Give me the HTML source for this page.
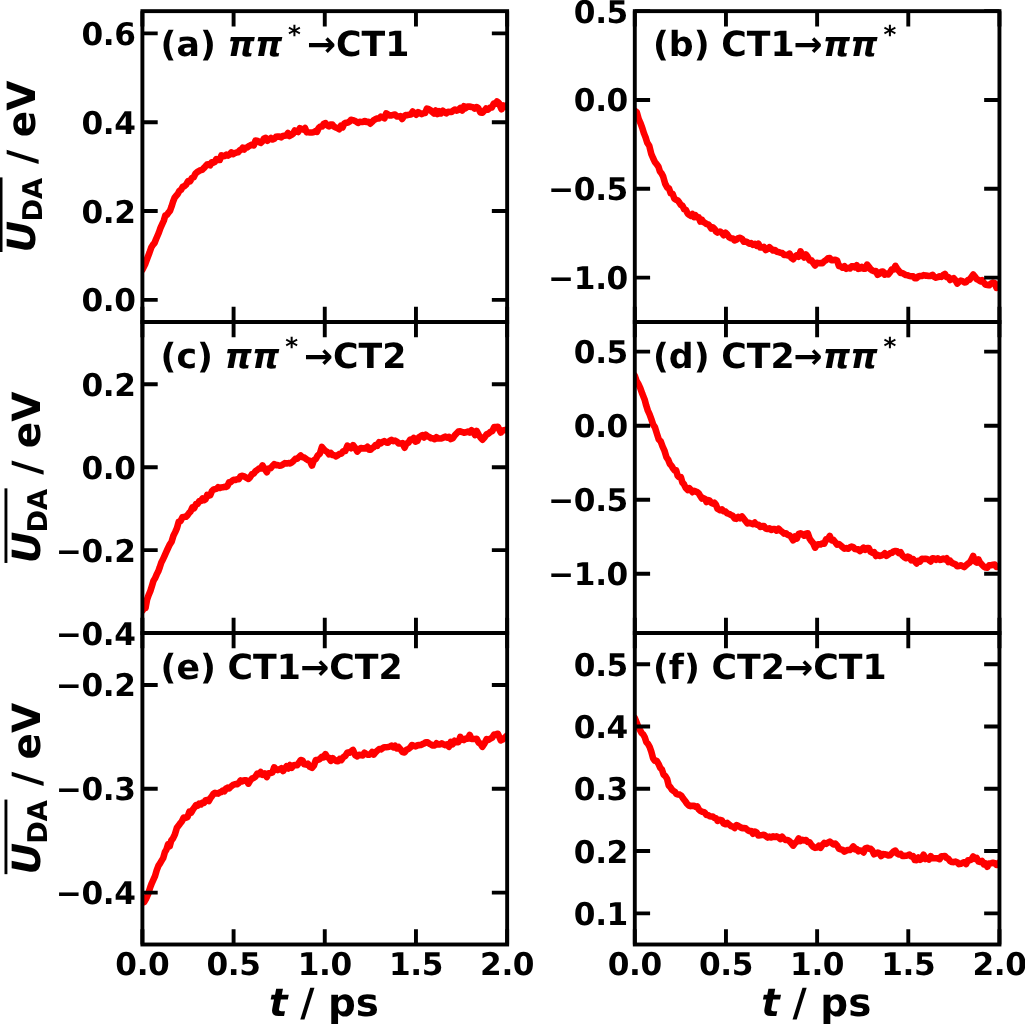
<!DOCTYPE html>
<html><head><meta charset="utf-8"><title>U_DA vs t</title>
<style>html,body{margin:0;padding:0;background:#fff;} body{width:1025px;height:1024px;overflow:hidden;} svg{display:block;} text{text-rendering:geometricPrecision;}</style>
</head><body>
<svg width="1025" height="1024" viewBox="0 0 1025 1024">
<defs>
<clipPath id="clipa"><rect x="142.4" y="11.15" width="364.75" height="310.90"/></clipPath>
<clipPath id="clipb"><rect x="634.8" y="11.15" width="364.65" height="310.90"/></clipPath>
<clipPath id="clipc"><rect x="142.4" y="322.05" width="364.75" height="311.00"/></clipPath>
<clipPath id="clipd"><rect x="634.8" y="322.05" width="364.65" height="311.00"/></clipPath>
<clipPath id="clipe"><rect x="142.4" y="633.05" width="364.75" height="311.45"/></clipPath>
<clipPath id="clipf"><rect x="634.8" y="633.05" width="364.65" height="311.45"/></clipPath>
</defs>
<rect width="1025" height="1024" fill="#fff"/>
<g clip-path="url(#clipa)"><polyline points="142.40,269.72 145.00,264.56 147.50,257.75 149.45,252.75 151.40,247.18 152.97,244.73 154.53,242.96 156.10,238.97 158.80,232.74 160.50,227.97 162.20,224.23 163.77,220.74 165.33,215.43 166.90,214.94 168.43,212.72 169.97,210.88 171.50,206.64 173.05,201.73 174.60,197.82 176.17,195.68 177.73,193.94 179.30,190.95 181.00,189.85 182.70,186.84 184.40,186.16 186.10,184.53 188.07,181.11 190.03,181.46 192.00,177.91 193.70,177.17 195.40,173.72 197.10,172.14 198.80,171.12 200.46,170.20 202.12,169.84 203.78,168.23 205.44,166.29 207.10,164.55 208.63,164.21 210.17,165.31 211.70,162.26 213.23,162.60 214.77,161.99 216.30,159.06 218.00,159.70 219.70,160.04 221.40,155.33 223.10,156.15 224.76,155.88 226.42,154.60 228.08,155.55 229.74,154.43 231.40,152.39 233.06,154.09 234.72,153.10 236.38,152.58 238.04,152.30 239.70,150.30 241.20,149.65 242.70,147.70 244.20,149.43 245.70,147.69 247.20,147.49 248.70,146.21 250.40,145.34 252.10,144.62 253.80,145.42 255.50,140.57 257.20,140.70 258.90,142.06 260.60,142.89 262.30,141.44 264.02,138.54 265.75,137.85 267.48,140.67 269.20,139.29 270.90,138.02 272.60,139.48 274.30,138.76 276.00,136.87 277.70,136.62 279.40,136.48 281.10,137.40 282.80,135.98 284.50,135.70 286.20,135.55 287.90,133.05 289.60,136.01 291.33,134.98 293.05,133.83 294.77,130.40 296.50,131.20 298.20,131.98 299.90,128.21 301.60,129.15 303.30,129.62 305.00,128.08 306.70,132.32 308.40,132.18 310.10,132.43 311.83,132.43 313.55,132.26 315.27,131.16 317.00,131.76 318.70,128.07 320.40,126.64 322.10,126.55 323.80,123.73 325.50,123.08 327.20,125.44 328.90,126.36 330.60,124.61 332.33,124.43 334.05,126.65 335.77,127.49 337.50,128.17 339.20,129.20 340.90,125.67 342.60,127.34 344.30,123.70 346.00,122.68 347.70,122.69 349.40,121.69 351.10,119.84 352.83,120.13 354.55,120.76 356.27,121.62 358.00,122.93 359.70,121.78 361.40,121.96 363.10,121.95 364.80,121.00 366.62,121.99 368.45,121.92 370.28,123.66 372.10,121.96 373.85,120.08 375.60,119.09 377.35,118.44 379.10,118.42 380.88,116.68 382.65,117.12 384.43,118.37 386.20,113.40 387.98,114.41 389.75,115.57 391.52,115.39 393.30,114.86 395.07,114.65 396.85,116.37 398.62,116.49 400.40,116.13 402.15,118.95 403.90,116.39 405.65,115.04 407.40,115.19 409.17,114.68 410.95,114.48 412.73,111.58 414.50,113.26 416.27,114.73 418.05,112.16 419.83,113.20 421.60,114.15 423.38,113.17 425.15,112.99 426.93,108.60 428.70,109.21 430.45,110.10 432.20,112.04 433.95,113.43 435.70,110.50 437.48,114.12 439.25,111.16 441.02,113.33 442.80,110.76 444.57,112.42 446.35,113.36 448.12,111.71 449.90,111.91 451.65,111.88 453.40,110.46 455.15,109.50 456.90,110.59 458.67,109.70 460.45,107.88 462.23,110.45 464.00,106.24 465.77,108.16 467.55,106.51 469.33,106.60 471.10,106.88 472.88,107.22 474.65,108.55 476.43,107.04 478.20,107.94 480.30,112.38 482.40,112.74 484.27,110.80 486.13,108.45 488.00,109.59 489.90,107.85 491.80,107.49 493.70,103.67 495.37,103.73 497.03,101.51 498.70,102.64 501.50,109.25 503.38,105.35 505.27,106.88 507.15,105.09" fill="none" stroke="#ff0000" stroke-width="6.6" stroke-linejoin="round" stroke-linecap="round"/></g>
<g clip-path="url(#clipb)"><polyline points="634.80,110.80 636.75,112.13 638.70,119.15 640.60,123.34 642.50,128.64 644.07,133.64 645.63,137.55 647.20,142.65 649.25,145.73 651.30,153.95 653.13,158.27 654.97,162.16 656.80,164.30 658.38,166.61 659.95,171.47 661.52,173.40 663.10,176.34 665.15,183.62 667.20,187.61 668.95,188.30 670.70,193.32 672.53,193.66 674.37,198.55 676.20,199.95 677.75,200.40 679.30,202.54 680.85,204.94 682.40,205.59 684.17,209.29 685.93,210.10 687.70,213.64 689.30,214.91 690.90,215.80 692.50,214.06 694.07,217.08 695.63,215.37 697.20,217.56 698.77,217.37 700.33,221.49 701.90,219.74 703.45,222.06 705.00,222.84 706.55,223.99 708.10,224.35 709.67,226.03 711.25,228.52 712.83,227.37 714.40,228.68 715.95,231.55 717.50,232.58 720.00,231.51 721.83,232.84 723.65,235.18 725.47,232.74 727.30,234.44 729.12,237.31 730.95,238.17 732.77,238.41 734.60,240.39 736.45,239.68 738.30,238.20 740.15,237.78 742.00,238.80 743.83,241.79 745.65,241.43 747.47,242.33 749.30,243.75 751.12,243.12 752.95,244.87 754.77,243.90 756.60,245.80 758.42,243.70 760.25,247.56 762.08,247.39 763.90,246.86 765.73,250.00 767.55,249.10 769.38,247.15 771.20,248.84 773.03,250.47 774.85,250.00 776.67,251.71 778.50,252.02 780.35,252.66 782.20,253.01 784.05,254.84 785.90,254.83 787.73,255.52 789.55,253.66 791.38,257.86 793.20,259.24 795.03,256.37 796.85,255.08 798.67,256.63 800.50,251.47 802.33,254.64 804.15,257.45 805.97,254.55 807.80,257.06 809.62,260.40 811.45,260.22 813.27,262.99 815.10,265.39 816.92,262.85 818.75,263.20 820.58,263.07 822.40,263.11 824.25,261.24 826.10,260.14 827.95,258.31 829.80,258.11 831.62,260.23 833.45,260.11 835.27,259.81 837.10,260.57 838.92,265.93 840.75,266.40 842.58,267.68 844.40,266.20 846.23,268.76 848.05,267.88 849.88,268.48 851.70,266.37 853.36,266.29 855.02,267.39 856.68,265.14 858.34,268.88 860.00,268.56 861.77,266.90 863.55,268.61 865.33,268.62 867.10,264.56 868.85,266.77 870.60,269.22 872.35,270.50 874.10,271.26 875.88,270.98 877.65,274.73 879.43,273.89 881.20,271.79 882.98,271.45 884.75,274.62 886.52,273.66 888.30,274.40 890.07,272.24 891.85,269.34 893.62,269.54 895.40,265.82 897.15,268.78 898.90,270.94 900.65,272.98 902.40,273.00 904.17,274.04 905.95,275.05 907.73,275.34 909.50,276.00 911.27,276.23 913.05,276.34 914.83,278.27 916.60,278.15 918.35,276.49 920.10,276.01 921.85,276.00 923.60,275.18 925.38,275.65 927.15,275.65 928.93,276.02 930.70,275.85 932.48,274.79 934.25,276.81 936.02,277.68 937.80,277.18 939.57,276.32 941.35,276.84 943.12,275.11 944.90,273.91 946.65,277.12 948.40,277.08 950.15,279.96 951.90,279.01 953.67,278.12 955.45,280.11 957.23,283.51 959.00,281.88 960.77,280.62 962.55,281.11 964.33,282.35 966.10,282.15 967.88,280.04 969.65,279.73 971.43,277.13 973.20,274.58 974.95,276.66 976.70,279.22 978.45,279.87 980.20,281.33 981.98,280.26 983.75,282.54 985.52,284.75 987.30,284.87 989.20,285.18 991.10,283.46 993.00,282.60 994.75,283.17 996.50,287.80 999.45,284.36" fill="none" stroke="#ff0000" stroke-width="6.6" stroke-linejoin="round" stroke-linecap="round"/></g>
<g clip-path="url(#clipc)"><polyline points="142.40,610.76 143.95,608.35 145.50,608.10 147.15,599.25 148.80,594.71 150.37,590.91 151.93,585.92 153.50,580.72 155.07,578.31 156.63,574.60 158.20,571.54 159.77,567.26 161.33,562.53 162.90,559.54 164.43,556.06 165.97,552.56 167.50,549.26 169.55,544.83 171.60,541.75 173.40,535.74 175.20,532.11 176.95,528.11 178.70,521.79 180.57,520.99 182.43,517.32 184.30,516.85 185.88,516.75 187.45,515.27 189.03,513.12 190.60,511.44 192.40,507.41 194.20,508.24 196.00,504.07 197.62,503.95 199.25,501.03 200.88,501.05 202.50,498.50 204.06,500.18 205.62,499.18 207.19,494.89 208.75,495.74 210.31,495.12 211.88,491.11 213.44,489.67 215.00,489.13 216.56,488.83 218.12,487.21 219.69,488.01 221.25,487.47 222.81,487.30 224.38,486.77 225.94,487.05 227.50,486.08 229.06,482.38 230.62,482.29 232.19,480.71 233.75,479.72 235.43,480.01 237.10,479.31 238.85,479.14 240.60,476.15 242.35,475.84 244.10,476.47 246.25,477.68 248.40,478.96 250.18,477.11 251.95,474.21 253.72,473.70 255.50,471.19 257.25,470.00 259.00,468.66 260.75,468.51 262.50,465.40 264.65,469.02 266.80,472.24 268.67,468.45 270.53,468.22 272.40,466.06 274.17,464.21 275.95,465.27 277.73,465.03 279.50,465.71 281.27,465.50 283.05,464.41 284.83,463.14 286.60,463.54 288.35,463.10 290.10,463.46 291.85,462.45 293.60,460.81 295.38,458.89 297.15,458.74 298.93,457.11 300.70,455.48 302.48,457.27 304.25,457.56 306.02,458.92 307.80,460.08 309.90,460.80 312.00,465.56 313.90,460.08 315.80,459.08 317.70,455.43 319.80,453.68 321.90,447.00 323.67,449.30 325.45,450.92 327.23,451.84 329.00,454.27 330.77,452.95 332.55,454.91 334.33,455.24 336.10,456.34 337.88,455.14 339.65,453.68 341.43,453.69 343.20,451.21 345.30,450.90 347.40,445.68 349.27,446.61 351.13,448.20 353.00,445.15 355.15,447.87 357.30,451.58 359.07,449.63 360.85,448.01 362.62,448.48 364.40,448.14 365.94,448.38 367.48,446.85 369.02,449.73 370.56,449.73 372.10,448.02 373.85,447.05 375.60,445.03 377.35,445.81 379.10,442.22 380.88,443.39 382.65,441.77 384.43,441.19 386.20,442.39 387.98,442.72 389.75,440.89 391.52,439.80 393.30,441.09 395.07,440.67 396.85,441.59 398.62,443.45 400.40,443.54 402.50,443.18 404.60,447.71 406.50,443.54 408.40,442.73 410.30,439.49 412.05,439.98 413.80,437.93 415.55,441.64 417.30,441.00 419.00,437.32 420.70,436.16 422.40,435.20 424.10,437.43 425.80,434.79 427.57,436.28 429.35,437.06 431.12,438.32 432.90,438.30 434.67,439.18 436.45,437.22 438.23,438.37 440.00,438.44 441.75,438.44 443.50,437.50 445.25,436.58 447.00,437.58 448.90,436.87 450.80,439.12 452.70,438.24 454.60,435.61 456.50,433.55 458.40,431.63 460.27,431.37 462.13,432.01 464.00,432.72 465.90,432.27 467.80,431.63 469.70,432.61 471.45,430.22 473.20,431.71 474.95,435.00 476.70,431.05 478.60,434.66 480.50,437.55 482.40,439.67 484.50,437.50 486.60,434.34 488.50,433.57 490.40,431.79 492.30,431.15 494.17,427.05 496.03,426.99 497.90,426.80 500.80,432.66 502.55,430.55 504.30,430.29 507.15,429.29" fill="none" stroke="#ff0000" stroke-width="6.6" stroke-linejoin="round" stroke-linecap="round"/></g>
<g clip-path="url(#clipd)"><polyline points="634.80,375.70 636.50,380.82 638.35,383.99 640.20,387.86 642.40,394.03 644.60,399.45 646.23,405.53 647.87,410.63 649.50,414.12 651.33,419.16 653.17,424.66 655.00,427.43 656.90,433.64 658.80,439.52 660.70,441.39 662.63,446.73 664.57,450.97 666.50,457.39 668.20,459.68 669.90,463.95 671.60,465.84 673.12,468.50 674.64,470.43 676.16,470.41 677.68,475.86 679.20,477.19 680.80,477.03 682.40,482.52 684.00,484.31 685.60,487.69 687.80,490.10 689.37,488.32 690.93,490.00 692.50,492.14 694.07,490.90 695.63,491.44 697.20,492.10 698.77,493.29 700.33,496.04 701.90,498.56 703.45,498.15 705.00,498.92 706.55,502.08 708.10,500.03 709.67,500.65 711.25,502.76 712.83,503.57 714.40,502.63 715.95,504.79 717.50,508.72 720.00,510.27 721.83,509.29 723.65,511.23 725.47,511.58 727.30,513.41 729.12,513.87 730.95,515.01 732.77,515.81 734.60,518.46 736.45,518.83 738.30,516.90 740.15,518.23 742.00,516.47 743.83,518.85 745.65,521.07 747.47,523.39 749.30,522.78 751.12,523.47 752.95,524.12 754.77,522.60 756.60,524.62 758.42,524.78 760.25,526.86 762.08,526.13 763.90,526.13 765.73,528.52 767.55,528.94 769.38,528.22 771.20,529.98 773.03,529.07 774.85,529.08 776.67,530.65 778.50,528.77 780.35,530.48 782.20,531.93 784.05,533.61 785.90,533.22 787.73,535.01 789.55,535.23 791.38,537.56 793.20,540.33 795.03,536.47 796.85,538.55 798.67,533.97 800.50,533.42 802.33,534.14 804.15,535.63 805.97,533.69 807.80,533.29 809.62,538.64 811.45,541.22 813.27,543.41 815.10,547.70 816.92,544.78 818.75,544.28 820.58,544.47 822.40,543.31 824.25,543.63 826.10,539.34 827.95,539.19 829.80,535.90 831.62,540.32 833.45,539.94 835.27,542.29 837.10,544.57 838.92,544.02 840.75,545.57 842.58,547.13 844.40,548.58 846.23,548.08 848.05,548.75 849.88,547.37 851.70,546.67 853.36,547.15 855.02,549.09 856.68,549.36 858.34,549.40 860.00,551.03 861.77,549.43 863.55,547.63 865.33,549.80 867.10,548.01 868.85,548.02 870.60,551.84 872.35,552.60 874.10,552.08 875.88,555.95 877.65,554.92 879.43,555.91 881.20,555.52 882.98,554.96 884.75,553.25 886.52,555.84 888.30,554.63 890.07,553.21 891.85,552.84 893.62,551.46 895.40,551.04 897.15,551.32 898.90,553.11 900.65,552.22 902.40,555.53 904.17,557.09 905.95,558.17 907.73,556.65 909.50,557.27 911.27,560.19 913.05,559.14 914.83,561.36 916.60,563.45 918.35,560.94 920.10,561.55 921.85,558.72 923.60,559.03 925.38,558.71 927.15,558.93 928.93,560.04 930.70,561.40 932.48,558.24 934.25,558.52 936.02,559.87 937.80,558.34 939.57,559.87 941.35,559.78 943.12,558.67 944.90,559.38 946.65,558.32 948.40,562.09 950.15,560.78 951.90,562.93 953.67,563.64 955.45,564.36 957.23,566.29 959.00,565.99 960.77,565.29 962.55,566.15 964.33,567.11 966.10,565.21 967.88,563.65 969.65,562.66 971.43,559.64 973.20,555.99 974.95,561.40 976.70,562.63 978.45,559.42 980.20,562.96 981.98,564.71 983.75,566.56 985.52,567.49 987.30,567.70 989.20,565.41 991.10,565.25 993.00,564.84 994.75,564.65 996.50,566.87 999.45,565.97" fill="none" stroke="#ff0000" stroke-width="6.6" stroke-linejoin="round" stroke-linecap="round"/></g>
<g clip-path="url(#clipe)"><polyline points="142.40,902.87 144.15,902.01 145.90,899.12 148.10,894.25 150.30,887.13 151.87,883.03 153.43,879.67 155.00,876.15 156.75,870.17 158.50,865.61 160.07,863.31 161.63,860.67 163.20,858.13 164.83,852.27 166.47,849.55 168.10,844.30 169.67,846.26 171.23,840.64 172.80,838.66 174.85,834.57 176.90,827.81 179.80,823.91 181.77,821.44 183.73,817.52 185.70,817.92 187.57,816.95 189.43,811.61 191.30,812.59 192.87,809.60 194.43,807.56 196.00,805.19 197.62,805.73 199.25,803.65 200.88,804.46 202.50,802.65 204.06,802.93 205.62,800.25 207.19,800.06 208.75,801.10 210.31,798.33 211.88,796.30 213.44,793.85 215.00,792.88 216.56,793.38 218.12,793.61 219.69,792.46 221.25,791.98 222.81,790.58 224.38,791.34 225.94,788.65 227.50,787.70 229.06,788.50 230.62,786.82 232.19,785.67 233.75,784.57 235.43,784.07 237.10,784.19 238.85,783.01 240.60,780.42 242.35,781.34 244.10,780.20 246.25,780.30 248.40,783.65 250.18,780.57 251.95,778.58 253.72,777.90 255.50,776.55 257.25,773.62 259.00,774.13 260.75,771.96 262.50,774.75 264.65,773.46 266.80,777.11 268.67,773.19 270.53,772.89 272.40,772.54 274.17,767.32 275.95,769.27 277.73,770.13 279.50,769.30 281.27,768.31 283.05,771.07 284.83,768.44 286.60,766.19 288.35,768.41 290.10,765.06 291.85,767.69 293.60,765.26 295.38,764.98 297.15,765.14 298.93,762.80 300.70,760.07 302.48,760.46 304.25,764.35 306.02,764.59 307.80,763.60 309.90,766.85 312.00,767.85 313.90,765.65 315.80,760.08 317.70,759.87 319.80,759.09 321.90,756.81 323.67,757.32 325.45,754.10 327.23,757.24 329.00,757.94 330.77,760.88 332.55,758.10 334.33,759.66 336.10,760.94 337.88,761.17 339.65,759.01 341.43,760.06 343.20,757.23 345.30,755.89 347.40,752.52 349.27,752.81 351.13,751.41 353.00,749.94 355.15,755.05 357.30,756.33 359.07,754.84 360.85,755.12 362.62,755.44 364.40,752.72 365.94,753.80 367.48,754.63 369.02,754.74 370.56,753.91 372.10,752.08 373.85,754.52 375.60,752.26 377.35,750.66 379.10,749.09 380.88,749.34 382.65,748.23 384.43,747.22 386.20,747.19 387.98,746.99 389.75,746.63 391.52,745.68 393.30,747.30 395.07,745.68 396.85,748.38 398.62,747.06 400.40,749.09 402.50,751.96 404.60,752.42 406.50,749.76 408.40,748.99 410.30,747.46 412.05,745.04 413.80,745.93 415.55,746.43 417.30,745.38 419.00,745.13 420.70,744.99 422.40,744.16 424.10,743.46 425.80,742.25 427.57,742.36 429.35,743.73 431.12,744.53 432.90,745.56 434.67,745.35 436.45,743.30 438.23,744.48 440.00,744.47 441.75,743.43 443.50,744.47 445.25,745.07 447.00,744.32 448.90,746.78 450.80,741.90 452.70,744.27 454.60,740.83 456.50,742.24 458.40,742.10 460.27,736.90 462.13,739.64 464.00,740.07 465.90,738.47 467.80,738.71 469.70,734.93 471.45,738.86 473.20,738.86 474.95,739.00 476.70,738.85 478.60,742.57 480.50,743.70 482.40,746.85 484.50,743.54 486.60,739.13 488.50,739.93 490.40,738.56 492.30,737.53 494.17,734.54 496.03,734.26 497.90,733.78 500.80,740.36 502.55,739.47 504.30,738.19 507.15,735.50" fill="none" stroke="#ff0000" stroke-width="6.6" stroke-linejoin="round" stroke-linecap="round"/></g>
<g clip-path="url(#clipf)"><polyline points="634.80,717.89 637.00,723.44 638.60,727.58 640.20,730.31 641.73,733.12 643.25,734.47 644.77,737.29 646.30,741.98 647.97,743.90 649.63,746.81 651.30,751.60 653.07,758.25 654.85,760.72 656.62,760.79 658.40,763.70 660.15,767.68 661.90,769.53 663.65,774.72 665.40,776.11 667.07,778.91 668.73,785.44 670.40,787.26 671.92,789.61 673.45,790.81 674.98,791.94 676.50,794.11 678.12,794.45 679.75,794.65 681.38,795.71 683.00,798.21 684.93,800.73 686.87,803.51 688.80,805.56 690.65,806.16 692.50,805.73 694.07,805.78 695.63,806.92 697.20,806.42 698.77,809.35 700.33,810.85 701.90,811.68 703.45,811.94 705.00,812.86 706.55,815.05 708.10,815.02 709.67,816.21 711.25,816.44 712.83,816.43 714.40,818.04 715.95,818.30 717.50,820.86 720.00,819.81 721.83,820.37 723.65,823.51 725.47,824.29 727.30,822.93 729.12,824.45 730.95,826.04 732.77,826.56 734.60,827.93 736.45,825.21 738.30,825.90 740.15,827.10 742.00,828.18 743.83,827.99 745.65,828.21 747.47,830.04 749.30,830.97 751.12,830.93 752.95,833.70 754.77,831.54 756.60,832.42 758.42,835.53 760.25,835.20 762.08,835.02 763.90,834.73 765.73,836.03 767.55,837.53 769.38,836.61 771.20,837.49 773.03,836.38 774.85,837.02 776.67,836.40 778.50,837.27 780.35,838.98 782.20,836.73 784.05,838.98 785.90,840.06 787.73,840.07 789.55,841.26 791.38,843.37 793.20,845.60 795.03,842.99 796.85,841.56 798.67,838.39 800.50,841.12 802.33,839.83 804.15,840.46 805.97,840.02 807.80,841.94 809.62,842.24 811.45,844.98 813.27,846.86 815.10,847.83 816.92,847.56 818.75,845.76 820.58,847.72 822.40,844.88 824.25,842.87 826.10,843.94 827.95,842.58 829.80,841.59 831.62,843.03 833.45,844.47 835.27,843.57 837.10,845.45 838.92,848.64 840.75,849.30 842.58,849.86 844.40,851.64 846.23,850.62 848.05,849.95 849.88,850.06 851.70,848.40 853.36,846.42 855.02,849.52 856.68,849.08 858.34,851.30 860.00,850.43 861.77,850.74 863.55,852.45 865.33,848.37 867.10,847.76 868.85,848.67 870.60,848.85 872.35,850.61 874.10,854.30 875.88,853.57 877.65,852.60 879.43,853.39 881.20,856.08 882.98,854.17 884.75,854.25 886.52,854.64 888.30,855.39 890.07,855.16 891.85,853.29 893.62,851.43 895.40,850.60 897.15,853.63 898.90,854.47 900.65,853.81 902.40,855.90 904.17,855.89 905.95,855.81 907.73,855.37 909.50,854.64 911.27,856.39 913.05,856.15 914.83,860.07 916.60,860.19 918.35,857.57 920.10,859.74 921.85,858.48 923.60,854.70 925.38,859.00 927.15,858.04 928.93,859.60 930.70,856.15 932.48,858.26 934.25,858.32 936.02,858.25 937.80,858.39 939.57,859.18 941.35,856.21 943.12,856.31 944.90,855.97 946.65,857.94 948.40,858.93 950.15,861.05 951.90,861.99 953.67,862.08 955.45,861.66 957.23,862.26 959.00,864.15 960.77,863.76 962.55,862.86 964.33,862.22 966.10,864.11 967.88,860.35 969.65,860.31 971.43,859.47 973.20,856.51 974.95,858.93 976.70,858.02 978.45,861.59 980.20,861.92 981.98,860.85 983.75,864.24 985.52,863.42 987.30,866.71 989.20,863.59 991.10,863.19 993.00,862.71 994.75,863.13 996.50,864.89 999.45,862.39" fill="none" stroke="#ff0000" stroke-width="6.6" stroke-linejoin="round" stroke-linecap="round"/></g>
<path d="M142.40 322.05V306.75M142.40 11.15V26.45M233.59 322.05V306.75M233.59 11.15V26.45M324.77 322.05V306.75M324.77 11.15V26.45M415.96 322.05V306.75M415.96 11.15V26.45M507.15 322.05V306.75M507.15 11.15V26.45M142.40 299.84H157.70M507.15 299.84H491.85M142.40 211.01H157.70M507.15 211.01H491.85M142.40 122.19H157.70M507.15 122.19H491.85M142.40 33.36H157.70M507.15 33.36H491.85M634.80 322.05V306.75M634.80 11.15V26.45M725.96 322.05V306.75M725.96 11.15V26.45M817.12 322.05V306.75M817.12 11.15V26.45M908.29 322.05V306.75M908.29 11.15V26.45M999.45 322.05V306.75M999.45 11.15V26.45M634.80 277.64H650.10M999.45 277.64H984.15M634.80 188.81H650.10M999.45 188.81H984.15M634.80 99.98H650.10M999.45 99.98H984.15M634.80 11.15H650.10M999.45 11.15H984.15M142.40 633.05V617.75M142.40 322.05V337.35M233.59 633.05V617.75M233.59 322.05V337.35M324.77 633.05V617.75M324.77 322.05V337.35M415.96 633.05V617.75M415.96 322.05V337.35M507.15 633.05V617.75M507.15 322.05V337.35M142.40 633.05H157.70M507.15 633.05H491.85M142.40 550.12H157.70M507.15 550.12H491.85M142.40 467.18H157.70M507.15 467.18H491.85M142.40 384.25H157.70M507.15 384.25H491.85M634.80 633.05V617.75M634.80 322.05V337.35M725.96 633.05V617.75M725.96 322.05V337.35M817.12 633.05V617.75M817.12 322.05V337.35M908.29 633.05V617.75M908.29 322.05V337.35M999.45 633.05V617.75M999.45 322.05V337.35M634.80 573.81H650.10M999.45 573.81H984.15M634.80 499.76H650.10M999.45 499.76H984.15M634.80 425.72H650.10M999.45 425.72H984.15M634.80 351.67H650.10M999.45 351.67H984.15M142.40 944.50V929.20M142.40 633.05V648.35M233.59 944.50V929.20M233.59 633.05V648.35M324.77 944.50V929.20M324.77 633.05V648.35M415.96 944.50V929.20M415.96 633.05V648.35M507.15 944.50V929.20M507.15 633.05V648.35M142.40 892.59H157.70M507.15 892.59H491.85M142.40 788.77H157.70M507.15 788.77H491.85M142.40 684.96H157.70M507.15 684.96H491.85M634.80 944.50V929.20M634.80 633.05V648.35M725.96 944.50V929.20M725.96 633.05V648.35M817.12 944.50V929.20M817.12 633.05V648.35M908.29 944.50V929.20M908.29 633.05V648.35M999.45 944.50V929.20M999.45 633.05V648.35M634.80 913.36H650.10M999.45 913.36H984.15M634.80 851.07H650.10M999.45 851.07H984.15M634.80 788.77H650.10M999.45 788.77H984.15M634.80 726.49H650.10M999.45 726.49H984.15M634.80 664.19H650.10M999.45 664.19H984.15" stroke="#000" stroke-width="3.9" fill="none"/>
<rect x="142.4" y="11.15" width="364.75" height="310.90" fill="none" stroke="#000" stroke-width="3.9"/>
<rect x="634.8" y="11.15" width="364.65" height="310.90" fill="none" stroke="#000" stroke-width="3.9"/>
<rect x="142.4" y="322.05" width="364.75" height="311.00" fill="none" stroke="#000" stroke-width="3.9"/>
<rect x="634.8" y="322.05" width="364.65" height="311.00" fill="none" stroke="#000" stroke-width="3.9"/>
<rect x="142.4" y="633.05" width="364.75" height="311.45" fill="none" stroke="#000" stroke-width="3.9"/>
<rect x="634.8" y="633.05" width="364.65" height="311.45" fill="none" stroke="#000" stroke-width="3.9"/>
<text x="135.50" y="311.34" text-anchor="end" font-size="31.2" font-weight="bold" letter-spacing="-0.4" font-family="'DejaVu Sans', 'Liberation Sans', sans-serif">0.0</text>
<text x="135.50" y="222.51" text-anchor="end" font-size="31.2" font-weight="bold" letter-spacing="-0.4" font-family="'DejaVu Sans', 'Liberation Sans', sans-serif">0.2</text>
<text x="135.50" y="133.69" text-anchor="end" font-size="31.2" font-weight="bold" letter-spacing="-0.4" font-family="'DejaVu Sans', 'Liberation Sans', sans-serif">0.4</text>
<text x="135.50" y="44.86" text-anchor="end" font-size="31.2" font-weight="bold" letter-spacing="-0.4" font-family="'DejaVu Sans', 'Liberation Sans', sans-serif">0.6</text>
<text x="627.90" y="289.14" text-anchor="end" font-size="31.2" font-weight="bold" letter-spacing="-0.4" font-family="'DejaVu Sans', 'Liberation Sans', sans-serif">−1.0</text>
<text x="627.90" y="200.31" text-anchor="end" font-size="31.2" font-weight="bold" letter-spacing="-0.4" font-family="'DejaVu Sans', 'Liberation Sans', sans-serif">−0.5</text>
<text x="627.90" y="111.48" text-anchor="end" font-size="31.2" font-weight="bold" letter-spacing="-0.4" font-family="'DejaVu Sans', 'Liberation Sans', sans-serif">0.0</text>
<text x="627.90" y="22.65" text-anchor="end" font-size="31.2" font-weight="bold" letter-spacing="-0.4" font-family="'DejaVu Sans', 'Liberation Sans', sans-serif">0.5</text>
<text x="135.50" y="644.55" text-anchor="end" font-size="31.2" font-weight="bold" letter-spacing="-0.4" font-family="'DejaVu Sans', 'Liberation Sans', sans-serif">−0.4</text>
<text x="135.50" y="561.62" text-anchor="end" font-size="31.2" font-weight="bold" letter-spacing="-0.4" font-family="'DejaVu Sans', 'Liberation Sans', sans-serif">−0.2</text>
<text x="135.50" y="478.68" text-anchor="end" font-size="31.2" font-weight="bold" letter-spacing="-0.4" font-family="'DejaVu Sans', 'Liberation Sans', sans-serif">0.0</text>
<text x="135.50" y="395.75" text-anchor="end" font-size="31.2" font-weight="bold" letter-spacing="-0.4" font-family="'DejaVu Sans', 'Liberation Sans', sans-serif">0.2</text>
<text x="627.90" y="585.31" text-anchor="end" font-size="31.2" font-weight="bold" letter-spacing="-0.4" font-family="'DejaVu Sans', 'Liberation Sans', sans-serif">−1.0</text>
<text x="627.90" y="511.26" text-anchor="end" font-size="31.2" font-weight="bold" letter-spacing="-0.4" font-family="'DejaVu Sans', 'Liberation Sans', sans-serif">−0.5</text>
<text x="627.90" y="437.22" text-anchor="end" font-size="31.2" font-weight="bold" letter-spacing="-0.4" font-family="'DejaVu Sans', 'Liberation Sans', sans-serif">0.0</text>
<text x="627.90" y="363.17" text-anchor="end" font-size="31.2" font-weight="bold" letter-spacing="-0.4" font-family="'DejaVu Sans', 'Liberation Sans', sans-serif">0.5</text>
<text x="135.50" y="904.09" text-anchor="end" font-size="31.2" font-weight="bold" letter-spacing="-0.4" font-family="'DejaVu Sans', 'Liberation Sans', sans-serif">−0.4</text>
<text x="135.50" y="800.27" text-anchor="end" font-size="31.2" font-weight="bold" letter-spacing="-0.4" font-family="'DejaVu Sans', 'Liberation Sans', sans-serif">−0.3</text>
<text x="135.50" y="696.46" text-anchor="end" font-size="31.2" font-weight="bold" letter-spacing="-0.4" font-family="'DejaVu Sans', 'Liberation Sans', sans-serif">−0.2</text>
<text x="627.90" y="924.86" text-anchor="end" font-size="31.2" font-weight="bold" letter-spacing="-0.4" font-family="'DejaVu Sans', 'Liberation Sans', sans-serif">0.1</text>
<text x="627.90" y="862.57" text-anchor="end" font-size="31.2" font-weight="bold" letter-spacing="-0.4" font-family="'DejaVu Sans', 'Liberation Sans', sans-serif">0.2</text>
<text x="627.90" y="800.27" text-anchor="end" font-size="31.2" font-weight="bold" letter-spacing="-0.4" font-family="'DejaVu Sans', 'Liberation Sans', sans-serif">0.3</text>
<text x="627.90" y="737.99" text-anchor="end" font-size="31.2" font-weight="bold" letter-spacing="-0.4" font-family="'DejaVu Sans', 'Liberation Sans', sans-serif">0.4</text>
<text x="627.90" y="675.69" text-anchor="end" font-size="31.2" font-weight="bold" letter-spacing="-0.4" font-family="'DejaVu Sans', 'Liberation Sans', sans-serif">0.5</text>
<text x="142.40" y="975.00" text-anchor="middle" font-size="31.2" font-weight="bold" letter-spacing="-0.4" font-family="'DejaVu Sans', 'Liberation Sans', sans-serif">0.0</text>
<text x="233.59" y="975.00" text-anchor="middle" font-size="31.2" font-weight="bold" letter-spacing="-0.4" font-family="'DejaVu Sans', 'Liberation Sans', sans-serif">0.5</text>
<text x="324.77" y="975.00" text-anchor="middle" font-size="31.2" font-weight="bold" letter-spacing="-0.4" font-family="'DejaVu Sans', 'Liberation Sans', sans-serif">1.0</text>
<text x="415.96" y="975.00" text-anchor="middle" font-size="31.2" font-weight="bold" letter-spacing="-0.4" font-family="'DejaVu Sans', 'Liberation Sans', sans-serif">1.5</text>
<text x="507.15" y="975.00" text-anchor="middle" font-size="31.2" font-weight="bold" letter-spacing="-0.4" font-family="'DejaVu Sans', 'Liberation Sans', sans-serif">2.0</text>
<text x="634.80" y="975.00" text-anchor="middle" font-size="31.2" font-weight="bold" letter-spacing="-0.4" font-family="'DejaVu Sans', 'Liberation Sans', sans-serif">0.0</text>
<text x="725.96" y="975.00" text-anchor="middle" font-size="31.2" font-weight="bold" letter-spacing="-0.4" font-family="'DejaVu Sans', 'Liberation Sans', sans-serif">0.5</text>
<text x="817.12" y="975.00" text-anchor="middle" font-size="31.2" font-weight="bold" letter-spacing="-0.4" font-family="'DejaVu Sans', 'Liberation Sans', sans-serif">1.0</text>
<text x="908.29" y="975.00" text-anchor="middle" font-size="31.2" font-weight="bold" letter-spacing="-0.4" font-family="'DejaVu Sans', 'Liberation Sans', sans-serif">1.5</text>
<text x="999.45" y="975.00" text-anchor="middle" font-size="31.2" font-weight="bold" letter-spacing="-0.4" font-family="'DejaVu Sans', 'Liberation Sans', sans-serif">2.0</text>
<text x="323.92" y="1016.2" text-anchor="middle" font-size="38.89" font-weight="bold" font-family="'DejaVu Sans', 'Liberation Sans', sans-serif"><tspan font-style="italic" dx="0">t</tspan><tspan dx="-0.8"> / ps</tspan></text>
<text x="816.27" y="1016.2" text-anchor="middle" font-size="38.89" font-weight="bold" font-family="'DejaVu Sans', 'Liberation Sans', sans-serif"><tspan font-style="italic" dx="0">t</tspan><tspan dx="-0.8"> / ps</tspan></text>
<g transform="translate(35.30,252.40) rotate(-90)"><text x="0.00" y="0.00" font-size="38.89" font-weight="bold" font-family="'DejaVu Sans', 'Liberation Sans', sans-serif" font-style="italic">U</text><text x="30.80" y="6.80" font-size="27.2" font-weight="bold" font-family="'DejaVu Sans', 'Liberation Sans', sans-serif">DA</text><text x="88.50" y="0.00" font-size="38.89" font-weight="bold" font-family="'DejaVu Sans', 'Liberation Sans', sans-serif">/</text><text x="115.20" y="0.00" font-size="38.89" font-weight="bold" font-family="'DejaVu Sans', 'Liberation Sans', sans-serif">eV</text><rect x="0.4" y="-35.70" width="74.6" height="2.9" fill="#000"/></g>
<g transform="translate(40.20,563.35) rotate(-90)"><text x="0.00" y="0.00" font-size="38.89" font-weight="bold" font-family="'DejaVu Sans', 'Liberation Sans', sans-serif" font-style="italic">U</text><text x="30.80" y="6.80" font-size="27.2" font-weight="bold" font-family="'DejaVu Sans', 'Liberation Sans', sans-serif">DA</text><text x="88.50" y="0.00" font-size="38.89" font-weight="bold" font-family="'DejaVu Sans', 'Liberation Sans', sans-serif">/</text><text x="115.20" y="0.00" font-size="38.89" font-weight="bold" font-family="'DejaVu Sans', 'Liberation Sans', sans-serif">eV</text><rect x="0.4" y="-35.70" width="74.6" height="2.9" fill="#000"/></g>
<g transform="translate(40.20,874.57) rotate(-90)"><text x="0.00" y="0.00" font-size="38.89" font-weight="bold" font-family="'DejaVu Sans', 'Liberation Sans', sans-serif" font-style="italic">U</text><text x="30.80" y="6.80" font-size="27.2" font-weight="bold" font-family="'DejaVu Sans', 'Liberation Sans', sans-serif">DA</text><text x="88.50" y="0.00" font-size="38.89" font-weight="bold" font-family="'DejaVu Sans', 'Liberation Sans', sans-serif">/</text><text x="115.20" y="0.00" font-size="38.89" font-weight="bold" font-family="'DejaVu Sans', 'Liberation Sans', sans-serif">eV</text><rect x="0.4" y="-35.70" width="74.6" height="2.9" fill="#000"/></g>
<text x="160.60" y="56.45" font-size="34.72" font-weight="bold" font-family="'DejaVu Sans', 'Liberation Sans', sans-serif">(a) </text><text x="227.45" y="56.45" font-size="34.72" font-weight="bold" font-family="'DejaVu Sans', 'Liberation Sans', sans-serif" font-style="italic">ππ</text><text x="288.08" y="43.45" font-size="24.5" font-weight="bold" font-family="'DejaVu Sans', 'Liberation Sans', sans-serif">*</text><text x="306.88" y="56.45" font-size="34.72" font-weight="bold" font-family="'DejaVu Sans', 'Liberation Sans', sans-serif">→</text><text x="335.97" y="56.45" font-size="34.72" font-weight="bold" font-family="'DejaVu Sans', 'Liberation Sans', sans-serif">CT1</text>
<text x="653.00" y="56.45" font-size="34.72" font-weight="bold" font-family="'DejaVu Sans', 'Liberation Sans', sans-serif">(b) </text><text x="721.28" y="56.45" font-size="34.72" font-weight="bold" font-family="'DejaVu Sans', 'Liberation Sans', sans-serif">CT1</text><text x="793.60" y="56.45" font-size="34.72" font-weight="bold" font-family="'DejaVu Sans', 'Liberation Sans', sans-serif">→</text><text x="822.69" y="56.45" font-size="34.72" font-weight="bold" font-family="'DejaVu Sans', 'Liberation Sans', sans-serif" font-style="italic">ππ</text><text x="883.52" y="43.45" font-size="24.5" font-weight="bold" font-family="'DejaVu Sans', 'Liberation Sans', sans-serif">*</text>
<text x="160.60" y="367.65" font-size="34.72" font-weight="bold" font-family="'DejaVu Sans', 'Liberation Sans', sans-serif">(c) </text><text x="224.60" y="367.65" font-size="34.72" font-weight="bold" font-family="'DejaVu Sans', 'Liberation Sans', sans-serif" font-style="italic">ππ</text><text x="285.23" y="354.65" font-size="24.5" font-weight="bold" font-family="'DejaVu Sans', 'Liberation Sans', sans-serif">*</text><text x="304.03" y="367.65" font-size="34.72" font-weight="bold" font-family="'DejaVu Sans', 'Liberation Sans', sans-serif">→</text><text x="333.12" y="367.65" font-size="34.72" font-weight="bold" font-family="'DejaVu Sans', 'Liberation Sans', sans-serif">CT2</text>
<text x="653.00" y="367.65" font-size="34.72" font-weight="bold" font-family="'DejaVu Sans', 'Liberation Sans', sans-serif">(d) </text><text x="721.28" y="367.65" font-size="34.72" font-weight="bold" font-family="'DejaVu Sans', 'Liberation Sans', sans-serif">CT2</text><text x="793.60" y="367.65" font-size="34.72" font-weight="bold" font-family="'DejaVu Sans', 'Liberation Sans', sans-serif">→</text><text x="822.69" y="367.65" font-size="34.72" font-weight="bold" font-family="'DejaVu Sans', 'Liberation Sans', sans-serif" font-style="italic">ππ</text><text x="883.52" y="354.65" font-size="24.5" font-weight="bold" font-family="'DejaVu Sans', 'Liberation Sans', sans-serif">*</text>
<text x="160.60" y="679.15" font-size="34.72" font-weight="bold" font-family="'DejaVu Sans', 'Liberation Sans', sans-serif">(e) </text><text x="227.57" y="679.15" font-size="34.72" font-weight="bold" font-family="'DejaVu Sans', 'Liberation Sans', sans-serif">CT1</text><text x="300.19" y="679.15" font-size="34.72" font-weight="bold" font-family="'DejaVu Sans', 'Liberation Sans', sans-serif">→</text><text x="329.29" y="679.15" font-size="34.72" font-weight="bold" font-family="'DejaVu Sans', 'Liberation Sans', sans-serif">CT2</text>
<text x="653.00" y="679.15" font-size="34.72" font-weight="bold" font-family="'DejaVu Sans', 'Liberation Sans', sans-serif">(f) </text><text x="711.53" y="679.15" font-size="34.72" font-weight="bold" font-family="'DejaVu Sans', 'Liberation Sans', sans-serif">CT2</text><text x="784.15" y="679.15" font-size="34.72" font-weight="bold" font-family="'DejaVu Sans', 'Liberation Sans', sans-serif">→</text><text x="813.24" y="679.15" font-size="34.72" font-weight="bold" font-family="'DejaVu Sans', 'Liberation Sans', sans-serif">CT1</text>
</svg>
</body></html>
